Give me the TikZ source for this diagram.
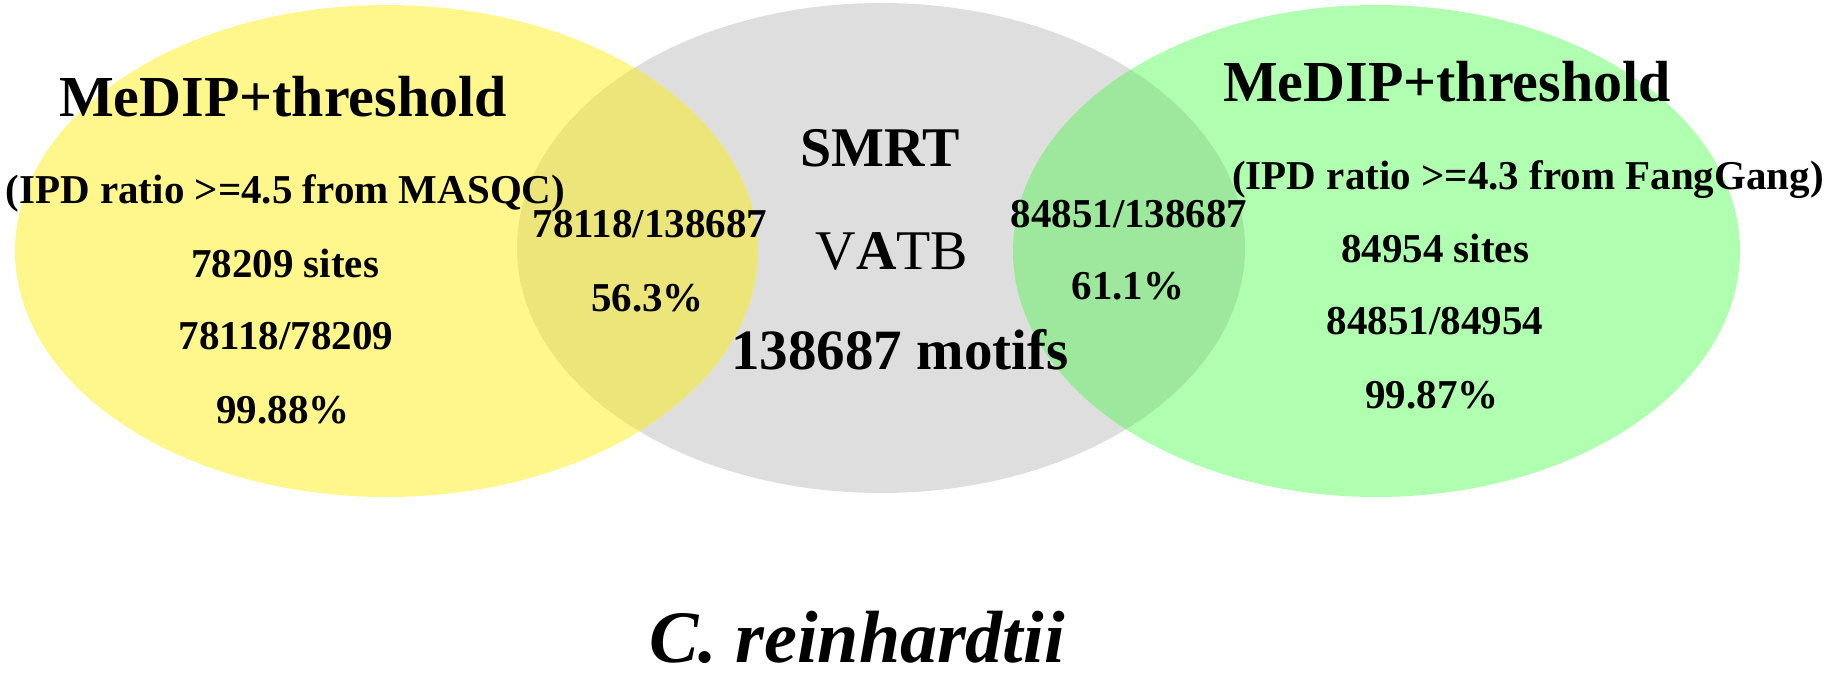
\documentclass[tikz,border=0pt]{standalone}
\usepackage{fontspec}
\setmainfont{Liberation Serif}
\definecolor{ycol}{RGB}{255,247,140}
\definecolor{gcol}{RGB}{222,222,222}
\definecolor{ncol}{RGB}{176,255,176}
\definecolor{ygcol}{RGB}{236,230,122}
\definecolor{ngcol}{RGB}{157,232,157}
\begin{document}
\begin{tikzpicture}[x=1pt,y=-1pt,
  lbl/.style={inner sep=0pt, anchor=base, font=\bfseries\fontsize{41}{49}\selectfont},
  settitle/.style={inner sep=0pt, anchor=base, font=\bfseries\fontsize{58}{68}\selectfont},
  midlbl/.style={inner sep=0pt, anchor=base, font=\fontsize{56}{66}\selectfont},
  captionlbl/.style={inner sep=0pt, anchor=base, text depth=0pt, font=\bfseries\itshape\fontsize{74}{80}\selectfont}]
\useasboundingbox (0,0) rectangle (1832,676);
% circles
\fill[gcol] (881,248) ellipse [x radius=364, y radius=245];
\fill[ycol] (386.5,251) ellipse [x radius=371.5, y radius=246];
\fill[ncol] (1376.5,251) ellipse [x radius=363.5, y radius=246];
\begin{scope}
  \clip (386.5,251) ellipse [x radius=371.5, y radius=246];
  \fill[ygcol] (881,248) ellipse [x radius=364, y radius=245];
\end{scope}
\begin{scope}
  \clip (1376.5,251) ellipse [x radius=363.5, y radius=246];
  \fill[ngcol] (881,248) ellipse [x radius=364, y radius=245];
\end{scope}
% left set
\node[settitle] (lt) at (283,117) {MeDIP+threshold};
\node[lbl] (lsub) at (285.5,204) {(IPD ratio >=4.5 from MASQC)};
\node[lbl] (lsites) at (285,278) {78209 sites};
\node[lbl] (lfrac) at (286,350) {78118/78209};
\node[lbl] (lpct) at (283,423) {99.88\%};
% left overlap
\node[lbl] (yfrac) at (650,238) {78118/138687};
\node[lbl] (ypct) at (647.5,312) {56.3\%};
% centre
\node[midlbl, font=\bfseries\fontsize{56}{66}\selectfont] (smrt) at (880,167) {SMRT};
\node[midlbl] (vatb) at (892,270) {V\textbf{A}TB};
\node[midlbl, font=\bfseries\fontsize{57}{67}\selectfont] (motifs) at (900,370) {138687 motifs};
% right overlap
\node[lbl] (nfrac) at (1129,228) {84851/138687};
\node[lbl] (npct) at (1128,300) {61.1\%};
% right set
\node[settitle] (rt) at (1447,102) {MeDIP+threshold};
\node[lbl] (rsub) at (1528,190) {(IPD ratio >=4.3 from FangGang)};
\node[lbl] (rsites) at (1435,263) {84954 sites};
\node[lbl] (rfrac) at (1435,335) {84851/84954};
\node[lbl] (rpct) at (1432,408) {99.87\%};
% caption
\node[captionlbl] (caption) at (857,662) {C. reinhardtii};
\end{tikzpicture}
\end{document}
